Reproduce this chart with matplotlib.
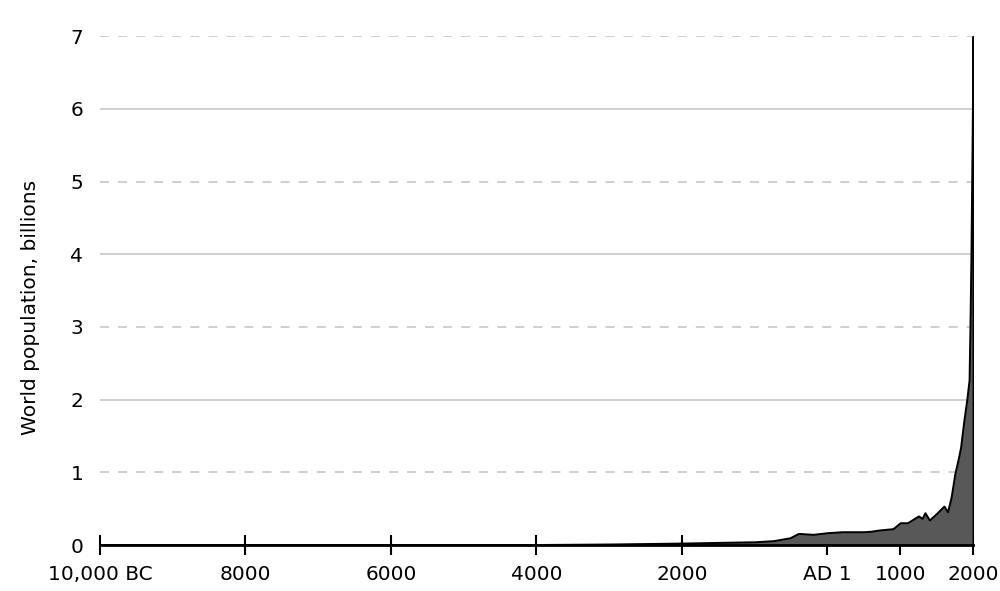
import matplotlib.pyplot as plt

# World population estimates (billions)
years = [-10000, -8000, -6500, -5000, -4000, -3000, -2000, -1000, -745, -515,
         -400, -200, 1, 200, 500, 600, 700, 900, 1000, 1100,
         1250, 1300, 1340, 1400, 1500, 1600, 1650, 1700, 1750, 1800,
         1830, 1875, 1913, 1946, 1958, 1972, 1982, 1992, 2000]
population = [0.004, 0.005, 0.005, 0.005, 0.007, 0.014, 0.027, 0.045, 0.06, 0.1,
              0.16, 0.147, 0.17, 0.183, 0.183, 0.19, 0.206, 0.225, 0.307, 0.307,
              0.40, 0.367, 0.444, 0.344, 0.436, 0.536, 0.458, 0.664, 0.98, 1.2,
              1.35, 1.72, 1.99, 2.27, 3.0, 4.0, 5.0, 6.0, 7.0]

xticks = [-10000, -8000, -6000, -4000, -2000, 0, 1000, 2000]
xlabels = ['10,000 BC', '8000', '6000', '4000', '2000', 'AD 1', '1000', '2000']
yticks = [0, 1, 2, 3, 4, 5, 6, 7]

fig = plt.figure(figsize=(10, 5.91), dpi=100)
ax = fig.add_axes([0.1, 0.0778, 0.873, 0.861])

# grid: solid on even values, dashed on odd
for v in yticks[1:]:
    ax.axhline(v, color='#cccccc', lw=1.3, ls='-' if v % 2 == 0 else (0, (5, 5)), zorder=0)

ax.fill_between(years, population, 0, facecolor='#585858', edgecolor='black', lw=1.4, zorder=2)

ax.set_xlim(-10000, 2000)
ax.set_ylim(0, 7)
ax.set_xticks(xticks)
ax.set_xticklabels(xlabels)
ax.set_yticks(yticks)
ax.tick_params(axis='x', direction='inout', length=15, width=1.5, labelsize=14.5, pad=7)
ax.tick_params(axis='y', length=0, labelsize=14.5, pad=12)
ax.set_ylabel('World population, billions', fontsize=14.5)
ax.yaxis.set_label_coords(-0.069, 0.466)

for side in ['top', 'right', 'left']:
    ax.spines[side].set_visible(False)
ax.spines['bottom'].set_linewidth(2)
ax.spines['bottom'].set_zorder(3)

fig.savefig('out.png', dpi=100)
